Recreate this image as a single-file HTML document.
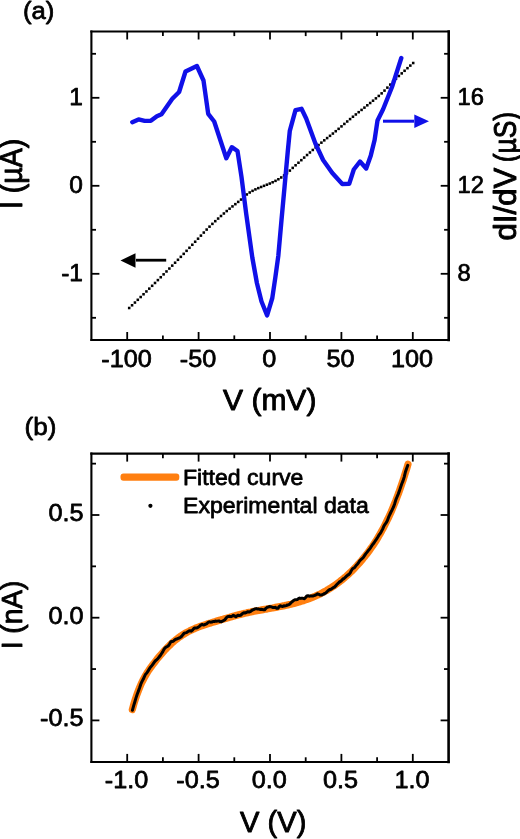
<!DOCTYPE html>
<html><head><meta charset="utf-8"><title>Figure</title>
<style>html,body{margin:0;padding:0;background:#fff}svg{display:block}</style></head>
<body>
<svg width="520" height="839" viewBox="0 0 520 839" font-family='"Liberation Sans", sans-serif' fill="#000">
<rect width="520" height="839" fill="#fff"/>
<style>text{stroke:#000;stroke-linejoin:round}</style>
<rect x="127.92" y="306.73" width="2.55" height="2.55"/>
<rect x="130.79" y="304.01" width="2.55" height="2.55"/>
<rect x="133.66" y="301.28" width="2.55" height="2.55"/>
<rect x="136.53" y="298.53" width="2.55" height="2.55"/>
<rect x="139.40" y="295.76" width="2.55" height="2.55"/>
<rect x="142.27" y="292.98" width="2.55" height="2.55"/>
<rect x="145.14" y="290.18" width="2.55" height="2.55"/>
<rect x="148.01" y="287.36" width="2.55" height="2.55"/>
<rect x="150.87" y="284.53" width="2.55" height="2.55"/>
<rect x="153.74" y="281.69" width="2.55" height="2.55"/>
<rect x="156.61" y="278.83" width="2.55" height="2.55"/>
<rect x="159.48" y="275.96" width="2.55" height="2.55"/>
<rect x="162.35" y="273.08" width="2.55" height="2.55"/>
<rect x="165.22" y="270.18" width="2.55" height="2.55"/>
<rect x="168.09" y="267.28" width="2.55" height="2.55"/>
<rect x="170.96" y="264.36" width="2.55" height="2.55"/>
<rect x="173.82" y="261.44" width="2.55" height="2.55"/>
<rect x="176.69" y="258.51" width="2.55" height="2.55"/>
<rect x="179.56" y="255.56" width="2.55" height="2.55"/>
<rect x="182.43" y="252.58" width="2.55" height="2.55"/>
<rect x="185.30" y="249.56" width="2.55" height="2.55"/>
<rect x="188.17" y="246.52" width="2.55" height="2.55"/>
<rect x="191.04" y="243.48" width="2.55" height="2.55"/>
<rect x="193.90" y="240.46" width="2.55" height="2.55"/>
<rect x="196.77" y="237.42" width="2.55" height="2.55"/>
<rect x="199.64" y="234.35" width="2.55" height="2.55"/>
<rect x="202.51" y="231.29" width="2.55" height="2.55"/>
<rect x="205.38" y="228.29" width="2.55" height="2.55"/>
<rect x="208.25" y="225.38" width="2.55" height="2.55"/>
<rect x="211.12" y="222.60" width="2.55" height="2.55"/>
<rect x="213.99" y="219.90" width="2.55" height="2.55"/>
<rect x="216.85" y="217.28" width="2.55" height="2.55"/>
<rect x="219.72" y="214.72" width="2.55" height="2.55"/>
<rect x="222.59" y="212.22" width="2.55" height="2.55"/>
<rect x="225.46" y="209.77" width="2.55" height="2.55"/>
<rect x="228.33" y="207.41" width="2.55" height="2.55"/>
<rect x="231.20" y="205.14" width="2.55" height="2.55"/>
<rect x="234.07" y="202.89" width="2.55" height="2.55"/>
<rect x="236.94" y="200.62" width="2.55" height="2.55"/>
<rect x="239.80" y="198.28" width="2.55" height="2.55"/>
<rect x="242.67" y="195.72" width="2.55" height="2.55"/>
<rect x="245.54" y="193.18" width="2.55" height="2.55"/>
<rect x="248.41" y="191.22" width="2.55" height="2.55"/>
<rect x="251.28" y="189.57" width="2.55" height="2.55"/>
<rect x="254.15" y="188.11" width="2.55" height="2.55"/>
<rect x="257.02" y="186.85" width="2.55" height="2.55"/>
<rect x="259.88" y="185.70" width="2.55" height="2.55"/>
<rect x="262.75" y="184.55" width="2.55" height="2.55"/>
<rect x="265.62" y="183.43" width="2.55" height="2.55"/>
<rect x="268.49" y="182.28" width="2.55" height="2.55"/>
<rect x="271.36" y="180.98" width="2.55" height="2.55"/>
<rect x="274.23" y="179.58" width="2.55" height="2.55"/>
<rect x="277.10" y="178.00" width="2.55" height="2.55"/>
<rect x="279.97" y="176.19" width="2.55" height="2.55"/>
<rect x="282.83" y="174.14" width="2.55" height="2.55"/>
<rect x="285.70" y="171.89" width="2.55" height="2.55"/>
<rect x="288.57" y="169.32" width="2.55" height="2.55"/>
<rect x="291.44" y="166.62" width="2.55" height="2.55"/>
<rect x="294.31" y="164.02" width="2.55" height="2.55"/>
<rect x="297.18" y="161.45" width="2.55" height="2.55"/>
<rect x="300.05" y="158.89" width="2.55" height="2.55"/>
<rect x="302.91" y="156.30" width="2.55" height="2.55"/>
<rect x="305.78" y="153.73" width="2.55" height="2.55"/>
<rect x="308.65" y="151.19" width="2.55" height="2.55"/>
<rect x="311.52" y="148.68" width="2.55" height="2.55"/>
<rect x="314.39" y="146.19" width="2.55" height="2.55"/>
<rect x="317.26" y="143.75" width="2.55" height="2.55"/>
<rect x="320.13" y="141.37" width="2.55" height="2.55"/>
<rect x="323.00" y="139.06" width="2.55" height="2.55"/>
<rect x="325.86" y="136.80" width="2.55" height="2.55"/>
<rect x="328.73" y="134.54" width="2.55" height="2.55"/>
<rect x="331.60" y="132.27" width="2.55" height="2.55"/>
<rect x="334.47" y="129.94" width="2.55" height="2.55"/>
<rect x="337.34" y="127.55" width="2.55" height="2.55"/>
<rect x="340.21" y="125.11" width="2.55" height="2.55"/>
<rect x="343.08" y="122.65" width="2.55" height="2.55"/>
<rect x="345.95" y="120.21" width="2.55" height="2.55"/>
<rect x="348.81" y="117.81" width="2.55" height="2.55"/>
<rect x="351.68" y="115.47" width="2.55" height="2.55"/>
<rect x="354.55" y="113.18" width="2.55" height="2.55"/>
<rect x="357.42" y="110.91" width="2.55" height="2.55"/>
<rect x="360.29" y="108.64" width="2.55" height="2.55"/>
<rect x="363.16" y="106.35" width="2.55" height="2.55"/>
<rect x="366.03" y="104.03" width="2.55" height="2.55"/>
<rect x="368.89" y="101.73" width="2.55" height="2.55"/>
<rect x="371.76" y="99.43" width="2.55" height="2.55"/>
<rect x="374.63" y="97.08" width="2.55" height="2.55"/>
<rect x="377.50" y="94.65" width="2.55" height="2.55"/>
<rect x="380.37" y="92.09" width="2.55" height="2.55"/>
<rect x="383.24" y="89.32" width="2.55" height="2.55"/>
<rect x="386.11" y="86.36" width="2.55" height="2.55"/>
<rect x="388.98" y="83.32" width="2.55" height="2.55"/>
<rect x="391.84" y="80.31" width="2.55" height="2.55"/>
<rect x="394.71" y="77.43" width="2.55" height="2.55"/>
<rect x="397.58" y="74.73" width="2.55" height="2.55"/>
<rect x="400.45" y="72.11" width="2.55" height="2.55"/>
<rect x="403.32" y="69.50" width="2.55" height="2.55"/>
<rect x="406.19" y="66.90" width="2.55" height="2.55"/>
<rect x="409.06" y="64.31" width="2.55" height="2.55"/>
<rect x="411.93" y="61.74" width="2.55" height="2.55"/>
<polyline fill="none" stroke="#1010e8" stroke-width="4.4" stroke-linejoin="round" stroke-linecap="round" points="132.3,122.2 138.5,119.4 144.6,120.9 150.8,120.8 156.9,116.2 161.5,114.2 172.3,98.8 179.1,92.0 185.5,71.5 196.9,66.0 203.5,80.5 208.2,113.8 214.2,121.5 226.3,158.2 231.8,147.2 237.5,151.0 241.5,177.0 246.2,213.8 252.3,257.5 256.9,283.0 261.5,301.5 267.1,315.4 272.3,298.0 275.4,277.0 278.3,256.0 281.5,220.0 284.6,186.2 287.7,152.3 289.8,130.8 295.5,110.2 301.5,108.8 306.2,118.5 315.4,143.5 323.1,160.0 332.3,173.0 342.3,184.0 349.2,183.8 353.8,169.5 360.0,161.5 366.2,168.5 370.8,155.4 374.6,140.0 377.5,120.5 383.1,109.2 392.3,86.2 401.3,58.0"/>
<line x1="136" y1="260.2" x2="166.2" y2="260.2" stroke="#000" stroke-width="2.8"/>
<polygon points="120.5,260.5 135.5,253.2 135.5,267.8"/>
<line x1="383" y1="121.2" x2="414" y2="121.2" stroke="#1010e8" stroke-width="3"/>
<polygon points="429,121.3 414.3,114.5 414.3,128.1" fill="#1010e8"/>
<g stroke="#000" stroke-linecap="square">
<line x1="91.4" y1="31.5" x2="448.7" y2="31.5" stroke-width="2.2"/>
<line x1="91.4" y1="340.0" x2="448.7" y2="340.0" stroke-width="2.0"/>
<line x1="91.4" y1="31.5" x2="91.4" y2="340.0" stroke-width="2.1"/>
<line x1="448.7" y1="31.5" x2="448.7" y2="340.0" stroke-width="2.6"/>
</g>
<line x1="127.20" y1="31.50" x2="127.20" y2="39.50" stroke="#000" stroke-width="1.8"/>
<line x1="162.90" y1="31.50" x2="162.90" y2="36.10" stroke="#000" stroke-width="1.8"/>
<line x1="198.60" y1="31.50" x2="198.60" y2="39.50" stroke="#000" stroke-width="1.8"/>
<line x1="234.30" y1="31.50" x2="234.30" y2="36.10" stroke="#000" stroke-width="1.8"/>
<line x1="270.00" y1="31.50" x2="270.00" y2="39.50" stroke="#000" stroke-width="1.8"/>
<line x1="305.70" y1="31.50" x2="305.70" y2="36.10" stroke="#000" stroke-width="1.8"/>
<line x1="341.40" y1="31.50" x2="341.40" y2="39.50" stroke="#000" stroke-width="1.8"/>
<line x1="377.10" y1="31.50" x2="377.10" y2="36.10" stroke="#000" stroke-width="1.8"/>
<line x1="412.80" y1="31.50" x2="412.80" y2="39.50" stroke="#000" stroke-width="1.8"/>
<line x1="127.20" y1="340.00" x2="127.20" y2="332.00" stroke="#000" stroke-width="1.8"/>
<line x1="162.90" y1="340.00" x2="162.90" y2="335.40" stroke="#000" stroke-width="1.8"/>
<line x1="198.60" y1="340.00" x2="198.60" y2="332.00" stroke="#000" stroke-width="1.8"/>
<line x1="234.30" y1="340.00" x2="234.30" y2="335.40" stroke="#000" stroke-width="1.8"/>
<line x1="270.00" y1="340.00" x2="270.00" y2="332.00" stroke="#000" stroke-width="1.8"/>
<line x1="305.70" y1="340.00" x2="305.70" y2="335.40" stroke="#000" stroke-width="1.8"/>
<line x1="341.40" y1="340.00" x2="341.40" y2="332.00" stroke="#000" stroke-width="1.8"/>
<line x1="377.10" y1="340.00" x2="377.10" y2="335.40" stroke="#000" stroke-width="1.8"/>
<line x1="412.80" y1="340.00" x2="412.80" y2="332.00" stroke="#000" stroke-width="1.8"/>
<line x1="91.40" y1="97.80" x2="99.40" y2="97.80" stroke="#000" stroke-width="1.8"/>
<line x1="91.40" y1="185.80" x2="99.40" y2="185.80" stroke="#000" stroke-width="1.8"/>
<line x1="91.40" y1="273.80" x2="99.40" y2="273.80" stroke="#000" stroke-width="1.8"/>
<line x1="91.40" y1="53.80" x2="96.00" y2="53.80" stroke="#000" stroke-width="1.8"/>
<line x1="91.40" y1="141.80" x2="96.00" y2="141.80" stroke="#000" stroke-width="1.8"/>
<line x1="91.40" y1="229.80" x2="96.00" y2="229.80" stroke="#000" stroke-width="1.8"/>
<line x1="91.40" y1="317.80" x2="96.00" y2="317.80" stroke="#000" stroke-width="1.8"/>
<line x1="448.70" y1="97.80" x2="440.70" y2="97.80" stroke="#000" stroke-width="1.8"/>
<line x1="448.70" y1="185.80" x2="440.70" y2="185.80" stroke="#000" stroke-width="1.8"/>
<line x1="448.70" y1="273.80" x2="440.70" y2="273.80" stroke="#000" stroke-width="1.8"/>
<line x1="448.70" y1="53.80" x2="444.10" y2="53.80" stroke="#000" stroke-width="1.8"/>
<line x1="448.70" y1="141.80" x2="444.10" y2="141.80" stroke="#000" stroke-width="1.8"/>
<line x1="448.70" y1="229.80" x2="444.10" y2="229.80" stroke="#000" stroke-width="1.8"/>
<line x1="448.70" y1="317.80" x2="444.10" y2="317.80" stroke="#000" stroke-width="1.8"/>
<text transform="translate(126.60,366.50) scale(1.03,1)" font-size="24.5" text-anchor="middle" stroke-width="0.75" >-100</text>
<text transform="translate(198.00,366.50) scale(1.03,1)" font-size="24.5" text-anchor="middle" stroke-width="0.75" >-50</text>
<text transform="translate(269.20,366.50) scale(1.03,1)" font-size="24.5" text-anchor="middle" stroke-width="0.75" >0</text>
<text transform="translate(340.60,366.50) scale(1.03,1)" font-size="24.5" text-anchor="middle" stroke-width="0.75" >50</text>
<text transform="translate(412.00,366.50) scale(1.03,1)" font-size="24.5" text-anchor="middle" stroke-width="0.75" >100</text>
<text transform="translate(83.00,104.60) scale(1.0,1)" font-size="24.5" text-anchor="end" stroke-width="0.75" >1</text>
<text transform="translate(83.00,192.60) scale(1.0,1)" font-size="24.5" text-anchor="end" stroke-width="0.75" >0</text>
<text transform="translate(83.00,280.60) scale(1.0,1)" font-size="24.5" text-anchor="end" stroke-width="0.75" >-1</text>
<text transform="translate(457.50,104.80) scale(0.97,1)" font-size="24.5" text-anchor="start" stroke-width="0.75" >16</text>
<text transform="translate(457.50,192.80) scale(0.97,1)" font-size="24.5" text-anchor="start" stroke-width="0.75" >12</text>
<text transform="translate(457.50,280.80) scale(0.97,1)" font-size="24.5" text-anchor="start" stroke-width="0.75" >8</text>
<text transform="translate(269.70,410.00) scale(1.0,1)" font-size="30" text-anchor="middle" stroke-width="0.9" >V (mV)</text>
<text transform="translate(21.60,209.10) rotate(-90) scale(0.95,1.06)" font-size="30" text-anchor="start" stroke-width="0.9">I (µA)</text>
<text transform="translate(515.60,240.50) rotate(-90) scale(1.04,1.06)" font-size="30" text-anchor="start" stroke-width="0.9">dI/dV</text>
<text transform="translate(515.60,162.30) rotate(-90) scale(0.88,1.06)" font-size="30" text-anchor="start" stroke-width="0.9">(µS)</text>
<text transform="translate(23.00,19.10) scale(1.05,1)" font-size="24.5" text-anchor="start" stroke-width="0.75" >(a)</text>
<polyline fill="none" stroke="#ff7f10" stroke-width="7.2" stroke-linejoin="round" stroke-linecap="round" points="132.3,709.6 133.8,704.2 135.4,699.2 136.9,694.6 138.5,690.4 140.0,686.6 141.5,683.1 143.1,680.0 144.6,677.1 146.2,674.4 147.7,671.9 149.2,669.6 150.8,667.4 152.3,665.3 153.9,663.3 155.4,661.3 156.9,659.3 158.5,657.4 160.0,655.6 161.6,653.8 163.1,652.1 164.6,650.4 166.2,648.7 167.7,647.1 169.3,645.6 170.8,644.1 172.3,642.7 173.9,641.4 175.4,640.1 177.0,638.9 178.5,637.7 180.0,636.6 181.6,635.6 183.1,634.6 184.7,633.6 186.2,632.7 187.7,631.9 189.3,631.1 190.8,630.3 192.4,629.6 193.9,628.9 195.4,628.2 197.0,627.6 198.5,627.0 200.1,626.4 201.6,625.9 203.2,625.3 204.7,624.8 206.2,624.3 207.8,623.8 209.3,623.3 210.9,622.9 212.4,622.4 213.9,621.9 215.5,621.5 217.0,621.0 218.6,620.5 220.1,620.1 221.6,619.6 223.2,619.2 224.7,618.7 226.3,618.3 227.8,617.8 229.3,617.4 230.9,616.9 232.4,616.5 234.0,616.1 235.5,615.6 237.0,615.2 238.6,614.8 240.1,614.4 241.7,614.1 243.2,613.7 244.7,613.3 246.3,613.0 247.8,612.6 249.4,612.3 250.9,612.0 252.4,611.6 254.0,611.3 255.5,611.0 257.1,610.7 258.6,610.5 260.1,610.2 261.7,609.9 263.2,609.6 264.8,609.3 266.3,609.1 267.8,608.8 269.4,608.5 270.9,608.2 272.5,608.0 274.0,607.7 275.5,607.4 277.1,607.1 278.6,606.8 280.2,606.5 281.7,606.2 283.2,605.9 284.8,605.6 286.3,605.2 287.9,604.9 289.4,604.5 290.9,604.2 292.5,603.8 294.0,603.4 295.6,603.0 297.1,602.6 298.6,602.1 300.2,601.7 301.7,601.2 303.3,600.7 304.8,600.2 306.3,599.7 307.9,599.1 309.4,598.6 311.0,598.0 312.5,597.3 314.0,596.7 315.6,596.0 317.1,595.3 318.7,594.6 320.2,593.9 321.7,593.1 323.3,592.3 324.8,591.4 326.4,590.6 327.9,589.7 329.4,588.7 331.0,587.8 332.5,586.8 334.1,585.7 335.6,584.7 337.1,583.6 338.7,582.4 340.2,581.2 341.8,580.0 343.3,578.7 344.9,577.4 346.4,576.1 347.9,574.7 349.5,573.3 351.0,571.8 352.6,570.3 354.1,568.7 355.6,567.1 357.2,565.4 358.7,563.7 360.3,562.0 361.8,560.2 363.3,558.3 364.9,556.4 366.4,554.4 368.0,552.4 369.5,550.3 371.0,548.2 372.6,546.0 374.1,543.7 375.7,541.3 377.2,538.8 378.7,536.2 380.3,533.6 381.8,530.8 383.4,528.0 384.9,525.0 386.4,521.9 388.0,518.7 389.5,515.4 391.1,512.0 392.6,508.4 394.1,504.7 395.7,500.8 397.2,496.8 398.8,492.6 400.3,488.3 401.8,483.8 403.4,479.2 404.9,474.4 406.5,469.4 408.0,464.2"/>
<polyline fill="none" stroke="#000" stroke-width="3.0" stroke-linejoin="round" stroke-linecap="round" points="132.4,710.3 133.6,705.9 134.8,702.0 136.0,697.9 137.2,694.2 138.4,691.1 139.6,687.8 140.8,684.2 142.0,681.4 143.2,679.3 144.4,676.6 145.6,674.2 146.8,673.0 148.0,671.2 149.2,669.1 150.4,667.2 151.6,666.0 152.8,664.3 154.0,662.6 155.2,661.0 156.5,659.9 157.7,658.7 158.9,657.3 160.1,655.8 161.3,654.0 162.5,652.2 163.7,649.9 164.9,648.0 166.1,647.1 167.3,646.5 168.5,645.6 169.7,643.8 170.9,641.8 172.1,641.5 173.3,641.3 174.5,640.1 175.7,639.3 176.9,639.0 178.1,638.4 179.3,638.0 180.5,637.2 181.7,636.3 182.9,634.7 184.1,633.2 185.3,632.9 186.5,632.6 187.7,631.7 188.9,631.0 190.1,630.7 191.3,631.2 192.5,630.2 193.7,628.6 194.9,627.9 196.1,628.0 197.3,627.8 198.5,627.0 199.7,626.1 200.9,624.9 202.2,624.5 203.4,624.9 204.6,624.7 205.8,624.1 207.0,623.6 208.2,622.3 209.4,621.8 210.6,622.2 211.8,622.1 213.0,621.5 214.2,621.5 215.4,621.1 216.6,621.2 217.8,621.1 219.0,620.9 220.2,621.6 221.4,621.8 222.6,621.0 223.8,620.4 225.0,619.7 226.2,617.9 227.4,616.7 228.6,616.4 229.8,616.3 231.0,616.7 232.2,616.2 233.4,615.3 234.6,615.8 235.8,616.8 237.0,615.8 238.2,615.2 239.4,615.4 240.6,615.2 241.8,614.3 243.0,613.1 244.2,612.7 245.4,612.9 246.6,612.3 247.9,611.7 249.1,612.1 250.3,611.7 251.5,610.6 252.7,609.9 253.9,609.5 255.1,608.9 256.3,608.6 257.5,609.0 258.7,609.1 259.9,609.4 261.1,609.2 262.3,609.4 263.5,609.8 264.7,609.8 265.9,608.3 267.1,607.3 268.3,607.0 269.5,606.6 270.7,606.7 271.9,607.1 273.1,607.6 274.3,607.6 275.5,607.3 276.7,608.3 277.9,608.2 279.1,606.7 280.3,605.7 281.5,606.3 282.7,606.4 283.9,605.7 285.1,605.9 286.3,605.6 287.5,604.9 288.7,604.7 289.9,604.0 291.1,602.6 292.3,601.6 293.6,600.5 294.8,599.8 296.0,599.8 297.2,599.6 298.4,598.7 299.6,598.1 300.8,598.4 302.0,598.1 303.2,598.4 304.4,598.7 305.6,597.5 306.8,596.0 308.0,595.7 309.2,596.2 310.4,596.1 311.6,596.0 312.8,596.0 314.0,595.6 315.2,595.3 316.4,594.6 317.6,593.8 318.8,594.3 320.0,595.1 321.2,595.0 322.4,594.7 323.6,594.0 324.8,593.5 326.0,592.8 327.2,591.5 328.4,590.4 329.6,589.6 330.8,589.4 332.0,588.5 333.2,587.7 334.4,587.1 335.6,585.9 336.8,584.5 338.0,583.4 339.3,582.0 340.5,581.5 341.7,580.4 342.9,579.0 344.1,578.5 345.3,577.3 346.5,576.2 347.7,575.1 348.9,574.4 350.1,573.1 351.3,570.7 352.5,568.8 353.7,568.1 354.9,567.2 356.1,565.5 357.3,564.2 358.5,562.8 359.7,560.8 360.9,559.7 362.1,558.6 363.3,557.5 364.5,555.7 365.7,553.9 366.9,552.4 368.1,550.8 369.3,549.5 370.5,547.8 371.7,545.9 372.9,544.2 374.1,542.7 375.3,540.8 376.5,539.1 377.7,537.2 378.9,535.2 380.1,533.6 381.3,531.7 382.5,529.3 383.7,526.6 385.0,524.3 386.2,522.7 387.4,520.5 388.6,517.2 389.8,514.5 391.0,512.0 392.2,509.7 393.4,507.2 394.6,503.9 395.8,499.8 397.0,497.0 398.2,494.1 399.4,490.9 400.6,487.2 401.8,483.8 403.0,480.9 404.2,477.1 405.4,472.0 406.6,468.5 407.8,465.3"/>
<rect x="120.5" y="473.4" width="58.8" height="7.3" rx="3" fill="#ff7f10"/>
<circle cx="150.4" cy="505.8" r="2.1"/>
<text transform="translate(183.00,485.00) scale(1.016,1)" font-size="22.7" text-anchor="start" stroke-width="0.75" >Fitted curve</text>
<text transform="translate(183.00,513.20) scale(1.016,1)" font-size="22.7" text-anchor="start" stroke-width="0.75" >Experimental data</text>
<g stroke="#000" stroke-linecap="square">
<line x1="91.4" y1="453.6" x2="448.6" y2="453.6" stroke-width="2.2"/>
<line x1="91.4" y1="761.9" x2="448.6" y2="761.9" stroke-width="2.0"/>
<line x1="91.4" y1="453.6" x2="91.4" y2="761.9" stroke-width="2.1"/>
<line x1="448.6" y1="453.6" x2="448.6" y2="761.9" stroke-width="2.6"/>
</g>
<line x1="127.20" y1="453.60" x2="127.20" y2="461.60" stroke="#000" stroke-width="1.8"/>
<line x1="162.90" y1="453.60" x2="162.90" y2="458.20" stroke="#000" stroke-width="1.8"/>
<line x1="198.60" y1="453.60" x2="198.60" y2="461.60" stroke="#000" stroke-width="1.8"/>
<line x1="234.30" y1="453.60" x2="234.30" y2="458.20" stroke="#000" stroke-width="1.8"/>
<line x1="270.00" y1="453.60" x2="270.00" y2="461.60" stroke="#000" stroke-width="1.8"/>
<line x1="305.70" y1="453.60" x2="305.70" y2="458.20" stroke="#000" stroke-width="1.8"/>
<line x1="341.40" y1="453.60" x2="341.40" y2="461.60" stroke="#000" stroke-width="1.8"/>
<line x1="377.10" y1="453.60" x2="377.10" y2="458.20" stroke="#000" stroke-width="1.8"/>
<line x1="412.80" y1="453.60" x2="412.80" y2="461.60" stroke="#000" stroke-width="1.8"/>
<line x1="127.20" y1="761.90" x2="127.20" y2="753.90" stroke="#000" stroke-width="1.8"/>
<line x1="162.90" y1="761.90" x2="162.90" y2="757.30" stroke="#000" stroke-width="1.8"/>
<line x1="198.60" y1="761.90" x2="198.60" y2="753.90" stroke="#000" stroke-width="1.8"/>
<line x1="234.30" y1="761.90" x2="234.30" y2="757.30" stroke="#000" stroke-width="1.8"/>
<line x1="270.00" y1="761.90" x2="270.00" y2="753.90" stroke="#000" stroke-width="1.8"/>
<line x1="305.70" y1="761.90" x2="305.70" y2="757.30" stroke="#000" stroke-width="1.8"/>
<line x1="341.40" y1="761.90" x2="341.40" y2="753.90" stroke="#000" stroke-width="1.8"/>
<line x1="377.10" y1="761.90" x2="377.10" y2="757.30" stroke="#000" stroke-width="1.8"/>
<line x1="412.80" y1="761.90" x2="412.80" y2="753.90" stroke="#000" stroke-width="1.8"/>
<line x1="91.40" y1="515.00" x2="99.40" y2="515.00" stroke="#000" stroke-width="1.8"/>
<line x1="91.40" y1="617.70" x2="99.40" y2="617.70" stroke="#000" stroke-width="1.8"/>
<line x1="91.40" y1="720.40" x2="99.40" y2="720.40" stroke="#000" stroke-width="1.8"/>
<line x1="91.40" y1="463.65" x2="96.00" y2="463.65" stroke="#000" stroke-width="1.8"/>
<line x1="91.40" y1="566.35" x2="96.00" y2="566.35" stroke="#000" stroke-width="1.8"/>
<line x1="91.40" y1="669.05" x2="96.00" y2="669.05" stroke="#000" stroke-width="1.8"/>
<line x1="448.60" y1="515.00" x2="440.60" y2="515.00" stroke="#000" stroke-width="1.8"/>
<line x1="448.60" y1="617.70" x2="440.60" y2="617.70" stroke="#000" stroke-width="1.8"/>
<line x1="448.60" y1="720.40" x2="440.60" y2="720.40" stroke="#000" stroke-width="1.8"/>
<line x1="448.60" y1="463.65" x2="444.00" y2="463.65" stroke="#000" stroke-width="1.8"/>
<line x1="448.60" y1="566.35" x2="444.00" y2="566.35" stroke="#000" stroke-width="1.8"/>
<line x1="448.60" y1="669.05" x2="444.00" y2="669.05" stroke="#000" stroke-width="1.8"/>
<text transform="translate(126.60,788.40) scale(1.03,1)" font-size="24.5" text-anchor="middle" stroke-width="0.75" >-1.0</text>
<text transform="translate(198.00,788.40) scale(1.03,1)" font-size="24.5" text-anchor="middle" stroke-width="0.75" >-0.5</text>
<text transform="translate(269.20,788.40) scale(1.03,1)" font-size="24.5" text-anchor="middle" stroke-width="0.75" >0.0</text>
<text transform="translate(340.60,788.40) scale(1.03,1)" font-size="24.5" text-anchor="middle" stroke-width="0.75" >0.5</text>
<text transform="translate(412.00,788.40) scale(1.03,1)" font-size="24.5" text-anchor="middle" stroke-width="0.75" >1.0</text>
<text transform="translate(83.50,520.90) scale(1.03,1)" font-size="24.5" text-anchor="end" stroke-width="0.75" >0.5</text>
<text transform="translate(83.50,623.60) scale(1.03,1)" font-size="24.5" text-anchor="end" stroke-width="0.75" >0.0</text>
<text transform="translate(83.50,726.30) scale(1.03,1)" font-size="24.5" text-anchor="end" stroke-width="0.75" >-0.5</text>
<text transform="translate(273.20,831.90) scale(0.97,1)" font-size="30" text-anchor="middle" stroke-width="0.9" >V (V)</text>
<text transform="translate(22.30,615.00) rotate(-90) scale(0.936,0.97)" font-size="30" text-anchor="middle" stroke-width="0.9">I (nA)</text>
<text transform="translate(24.50,435.40) scale(1.05,1)" font-size="24.8" text-anchor="start" stroke-width="0.75" >(b)</text>
</svg>
</body></html>
